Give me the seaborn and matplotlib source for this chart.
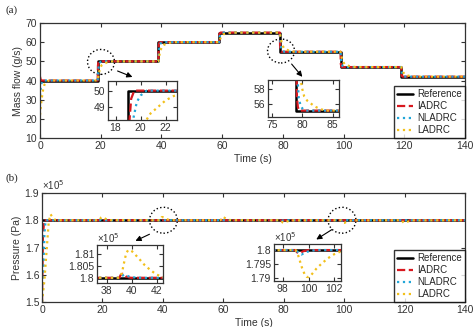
import matplotlib
matplotlib.use('Agg')
import matplotlib.pyplot as plt
from matplotlib.patches import Ellipse
import numpy as np
import pandas as pd
import seaborn as sns

# setpoint schedule of the mass flow (g/s), steps happen at STEP_T
STEP_T = [19, 39, 59, 79, 99, 119]
FLOW_SP = [40, 50, 60, 65, 55, 47, 42]
T_END = 140
P_SP = 1.8  # pressure setpoint, x 1e5 Pa

METHODS = ['Reference', 'IADRC', 'NLADRC', 'LADRC']
COLORS = ['black', '#d8181f', '#22a6d8', '#f2c01c']
STYLES = ['-', '--', ':', ':']

# mass flow start-up (time, value)
FLOW_START_T = {'Reference': [0], 'IADRC': [0, 0.2, 0.5],
                'NLADRC': [0, 0.3, 0.6, 1.0], 'LADRC': [0, 0.5, 1.0, 1.5, 2.2, 3.0]}
FLOW_START_V = {'Reference': [40], 'IADRC': [42, 40.6, 40],
                'NLADRC': [32, 37, 39.3, 40], 'LADRC': [22, 30, 35, 38, 39.5, 40]}

# response after each setpoint change: time after the step, fraction of the step done
STEP_DT = {'Reference': [0, 0], 'IADRC': [0, 0.1, 0.25, 0.5],
           'NLADRC': [0, 0.2, 0.4, 0.7, 1.0, 1.5],
           'LADRC': [0, 0.3, 0.6, 1.0, 1.3, 1.8, 2.4, 3.0, 3.6, 4.2, 5.0]}
STEP_FRAC = {'Reference': [0, 1], 'IADRC': [0, 0.8, 0.95, 1.0],
             'NLADRC': [0, 0.55, 0.82, 0.93, 0.97, 1.0],
             'LADRC': [0, 0.3, 0.52, 0.7, 0.8, 0.86, 0.9, 0.94, 0.965, 0.985, 1.0]}

# pressure start-up (time, value x 1e5)
P_START_T = {'Reference': [0], 'IADRC': [0, 0.3, 0.7],
             'NLADRC': [0, 0.4, 0.8, 1.2], 'LADRC': [0, 0.8, 1.6, 2.2, 2.8, 3.6, 4.5]}
P_START_V = {'Reference': [1.8], 'IADRC': [1.5, 1.74, 1.8],
             'NLADRC': [1.5, 1.6, 1.75, 1.8], 'LADRC': [1.5, 1.58, 1.7, 1.79, 1.822, 1.81, 1.8]}

# pressure deviation after an upward flow step
UP_DT = {'Reference': [0], 'IADRC': [0, 0.1, 0.25, 0.5, 0.9],
         'NLADRC': [0, 0.2, 0.4, 0.8, 1.4],
         'LADRC': [0, 0.2, 0.4, 0.55, 0.7, 0.85, 1.0, 1.5, 2.0, 2.5, 3.0, 3.5]}
UP_DEV = {'Reference': [0], 'IADRC': [0, 0.0012, 0.0017, 0.0006, 0],
          'NLADRC': [0, 0.0008, 0.0013, 0.0005, 0],
          'LADRC': [0, 0.002, 0.007, 0.0104, 0.0116, 0.0117, 0.0112, 0.0085, 0.0055,
                    0.0032, 0.0013, 0.0004]}
# pressure deviation after a downward flow step
DOWN_DT = {'Reference': [0], 'IADRC': [0, 0.1, 0.3, 0.6, 1.0],
           'NLADRC': [0, 0.2, 0.45, 0.9, 1.5],
           'LADRC': [0, 0.2, 0.5, 0.7, 0.85, 1.0, 1.2, 1.6, 2.0, 2.5, 3.0, 3.5]}
DOWN_DEV = {'Reference': [0], 'IADRC': [0, -0.0008, -0.0012, -0.0004, 0],
            'NLADRC': [0, -0.0008, -0.0016, -0.0006, 0],
            'LADRC': [0, -0.002, -0.0065, -0.0088, -0.0097, -0.0098, -0.0091, -0.0068,
                      -0.005, -0.003, -0.0015, -0.0005]}


def flow_frame(m):
    t = list(FLOW_START_T[m])
    v = list(FLOW_START_V[m])
    for k, ts in enumerate(STEP_T):
        a, b = FLOW_SP[k], FLOW_SP[k + 1]
        for dt, f in zip(STEP_DT[m], STEP_FRAC[m]):
            t.append(ts + dt)
            v.append(a + (b - a) * f)
    t.append(T_END)
    v.append(FLOW_SP[-1])
    return pd.DataFrame({'Time': t, 'Value': v})


def pressure_frame(m):
    t = list(P_START_T[m])
    v = list(P_START_V[m])
    for k, ts in enumerate(STEP_T):
        up = FLOW_SP[k + 1] > FLOW_SP[k]
        dts = UP_DT[m] if up else DOWN_DT[m]
        devs = UP_DEV[m] if up else DOWN_DEV[m]
        for dt, d in zip(dts, devs):
            t.append(ts + dt)
            v.append(P_SP + d)
    t.append(T_END)
    v.append(P_SP)
    return pd.DataFrame({'Time': t, 'Value': v})


def draw(ax, frames):
    for m, c, ls in zip(METHODS, COLORS, STYLES):
        lw = 1.8 if m == 'Reference' else 1.6
        sns.lineplot(data=frames[m], x='Time', y='Value', ax=ax, color=c,
                     linestyle=ls, linewidth=lw, estimator=None, sort=False,
                     label=m)
    ax.set_xlabel('')
    ax.set_ylabel('')


def style_ax(ax, fs=7.5):
    ax.tick_params(direction='in', top=True, right=True, labelsize=fs,
                   length=3, width=0.8, colors='#333333', pad=2)
    for s in ax.spines.values():
        s.set_color('#333333')
        s.set_linewidth(0.9)


def add_legend(ax):
    leg = ax.legend(loc='lower right', fontsize=7, frameon=True, fancybox=False,
                    borderaxespad=0, handlelength=1.7, labelspacing=0.2,
                    borderpad=0.3, handletextpad=0.4)
    leg.get_frame().set_edgecolor('black')
    leg.get_frame().set_linewidth(1.0)


sns.set_style('ticks')
plt.rcParams['font.family'] = ['Liberation Sans', 'DejaVu Sans']

flow = {m: flow_frame(m) for m in METHODS}
pres = {m: pressure_frame(m) for m in METHODS}

fig = plt.figure(figsize=(4.74, 3.27), dpi=100)
ax1 = fig.add_axes([40 / 474, 1 - 138 / 327, 425 / 474, 115 / 327])
ax2 = fig.add_axes([42 / 474, 1 - 302 / 327, 423 / 474, 109 / 327])

# ---- (a) mass flow
draw(ax1, flow)
ax1.set_xlim(0, 140)
ax1.set_ylim(10, 70)
ax1.set_xticks(range(0, 141, 20))
ax1.set_yticks(range(10, 71, 10))
style_ax(ax1)
ax1.set_xlabel('Time (s)', fontsize=7.5, color='#333333', labelpad=2)
ax1.set_ylabel('Mass flow (g/s)', fontsize=7.5, color='#333333', labelpad=2)
add_legend(ax1)

ia1 = ax1.inset_axes([0.16, 0.157, 0.162, 0.34])
draw(ia1, flow)
ia1.set_xlim(17.4, 22.9)
ia1.set_ylim(48.2, 50.6)
ia1.set_xticks([18, 20, 22])
ia1.set_yticks([49, 50])
style_ax(ia1)
ia1.get_legend().remove()

ia2 = ax1.inset_axes([0.536, 0.183, 0.167, 0.32])
draw(ia2, flow)
ia2.set_xlim(74.3, 86.0)
ia2.set_ylim(54.1, 59.3)
ia2.set_xticks([75, 80, 85])
ia2.set_yticks([56, 58])
style_ax(ia2)
ia2.get_legend().remove()

ax1.add_patch(Ellipse((20.1, 49.7), 8.9, 13, fill=False, ls=':', lw=1, color='black'))
ax1.add_patch(Ellipse((79.4, 55.4), 8.9, 12.5, fill=False, ls=':', lw=1, color='black'))
ax1.annotate('', xy=(31.3, 41.3), xytext=(24.7, 45.5),
             arrowprops=dict(arrowstyle='-|>', color='black', lw=0.8, mutation_scale=8))
ax1.annotate('', xy=(87, 40.8), xytext=(82.3, 49.7),
             arrowprops=dict(arrowstyle='-|>', color='black', lw=0.8, mutation_scale=8))

# ---- (b) pressure
draw(ax2, pres)
ax2.set_xlim(0, 140)
ax2.set_ylim(1.5, 1.9)
ax2.set_xticks(range(0, 141, 20))
ax2.set_yticks([1.5, 1.6, 1.7, 1.8, 1.9])
ax2.set_yticklabels(['1.5', '1.6', '1.7', '1.8', '1.9'])
style_ax(ax2)
ax2.set_xlabel('Time (s)', fontsize=7.5, color='#333333', labelpad=2)
ax2.set_ylabel('Pressure (Pa)', fontsize=7.5, color='#333333', labelpad=2)
ax2.text(0.0, 1.01, '\u00d710$^5$', transform=ax2.transAxes, fontsize=7,
         color='#333333', ha='left', va='bottom')
add_legend(ax2)

ib1 = ax2.inset_axes([0.13, 0.174, 0.156, 0.349])
draw(ib1, pres)
ib1.set_xlim(37.2, 42.5)
ib1.set_ylim(1.7978, 1.8138)
ib1.set_xticks([38, 40, 42])
ib1.set_yticks([1.8, 1.805, 1.81])
ib1.set_yticklabels(['1.8', '1.805', '1.81'])
style_ax(ib1)
ib1.get_legend().remove()
ib1.text(0.0, 1.01, '\u00d710$^5$', transform=ib1.transAxes, fontsize=7,
         color='#333333', ha='left', va='bottom')

ib2 = ax2.inset_axes([0.548, 0.193, 0.158, 0.339])
draw(ib2, pres)
ib2.set_xlim(97.3, 102.5)
ib2.set_ylim(1.7888, 1.8022)
ib2.set_xticks([98, 100, 102])
ib2.set_yticks([1.79, 1.795, 1.8])
ib2.set_yticklabels(['1.79', '1.795', '1.8'])
style_ax(ib2)
ib2.get_legend().remove()
ib2.text(0.0, 1.01, '\u00d710$^5$', transform=ib2.transAxes, fontsize=7,
         color='#333333', ha='left', va='bottom')

ax2.add_patch(Ellipse((40.2, 1.8), 9.2, 0.095, fill=False, ls=':', lw=1, color='black'))
ax2.add_patch(Ellipse((99.3, 1.8), 9.2, 0.095, fill=False, ls=':', lw=1, color='black'))
ax2.annotate('', xy=(30.1, 1.72), xytext=(36.4, 1.753),
             arrowprops=dict(arrowstyle='-|>', color='black', lw=0.8, mutation_scale=8))
ax2.annotate('', xy=(90, 1.724), xytext=(96.7, 1.771),
             arrowprops=dict(arrowstyle='-|>', color='black', lw=0.8, mutation_scale=8))

fig.text(5 / 474, 1 - 10 / 327, '(a)', fontsize=8, family='Liberation Serif', va='center')
fig.text(5 / 474, 1 - 178 / 327, '(b)', fontsize=8, family='Liberation Serif', va='center')

fig.savefig('out.png', dpi=100)
